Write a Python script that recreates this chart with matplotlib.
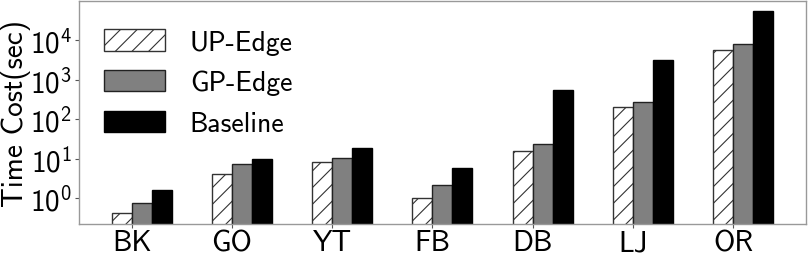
import numpy as np
import matplotlib
matplotlib.use("Agg")
import matplotlib.pyplot as plt

plt.rcParams['font.family'] = ['cmss10', 'DejaVu Sans']
plt.rcParams['mathtext.fontset'] = 'cm'
plt.rcParams['axes.unicode_minus'] = False
plt.rcParams['hatch.color'] = '#444444'
plt.rcParams['hatch.linewidth'] = 0.8

datasets = ['BK', 'GO', 'YT', 'FB', 'DB', 'LJ', 'OR']
up_edge = [0.42, 4.1, 8.1, 1.0, 15.5, 210, 5650]
gp_edge = [0.75, 7.4, 10.3, 2.1, 23.7, 270, 7900]
baseline = [1.62, 9.7, 18.5, 5.7, 550, 3100, 57000]

x = np.arange(len(datasets))
w = 0.2

fig = plt.figure(figsize=(8.11, 2.55), dpi=100)
ax = fig.add_axes([0.097, 0.118, 0.897, 0.874])

ax.bar(x - w / 2, up_edge, w, color='white', edgecolor='#333333', hatch='//',
       linewidth=1, label='UP-Edge')
ax.bar(x + w / 2, gp_edge, w, color='#808080', edgecolor='#222222',
       linewidth=1, label='GP-Edge')
ax.bar(x + 3 * w / 2, baseline, w, color='black', edgecolor='black',
       linewidth=1, label='Baseline')

ax.set_yscale('log')
ax.set_ylim(0.22, 1e5)
ax.set_yticks([1, 10, 100, 1000, 10000])
ax.set_xticks(x)
ax.set_xticklabels(datasets)
ax.set_ylabel('Time Cost(sec)', fontsize=21)
ax.yaxis.set_label_coords(-0.066, 0.5)
ax.tick_params(axis='x', labelsize=21, length=3, width=0.8, colors='#555555',
               labelcolor='black', pad=1)
ax.tick_params(axis='y', labelsize=21, length=3, width=0.8, colors='#555555',
               labelcolor='black', pad=2)
ax.tick_params(axis='y', which='minor', length=2, width=0.6, colors='#555555')
for s in ax.spines.values():
    s.set_color('#999999')
    s.set_linewidth(1)

ax.legend(loc='upper left', frameon=False, fontsize=20, handlelength=2.2,
          handleheight=0.8, labelspacing=0.55, handletextpad=0.9,
          borderaxespad=0.5, bbox_to_anchor=(0.0, 0.985))

fig.savefig('out.png', dpi=100)
